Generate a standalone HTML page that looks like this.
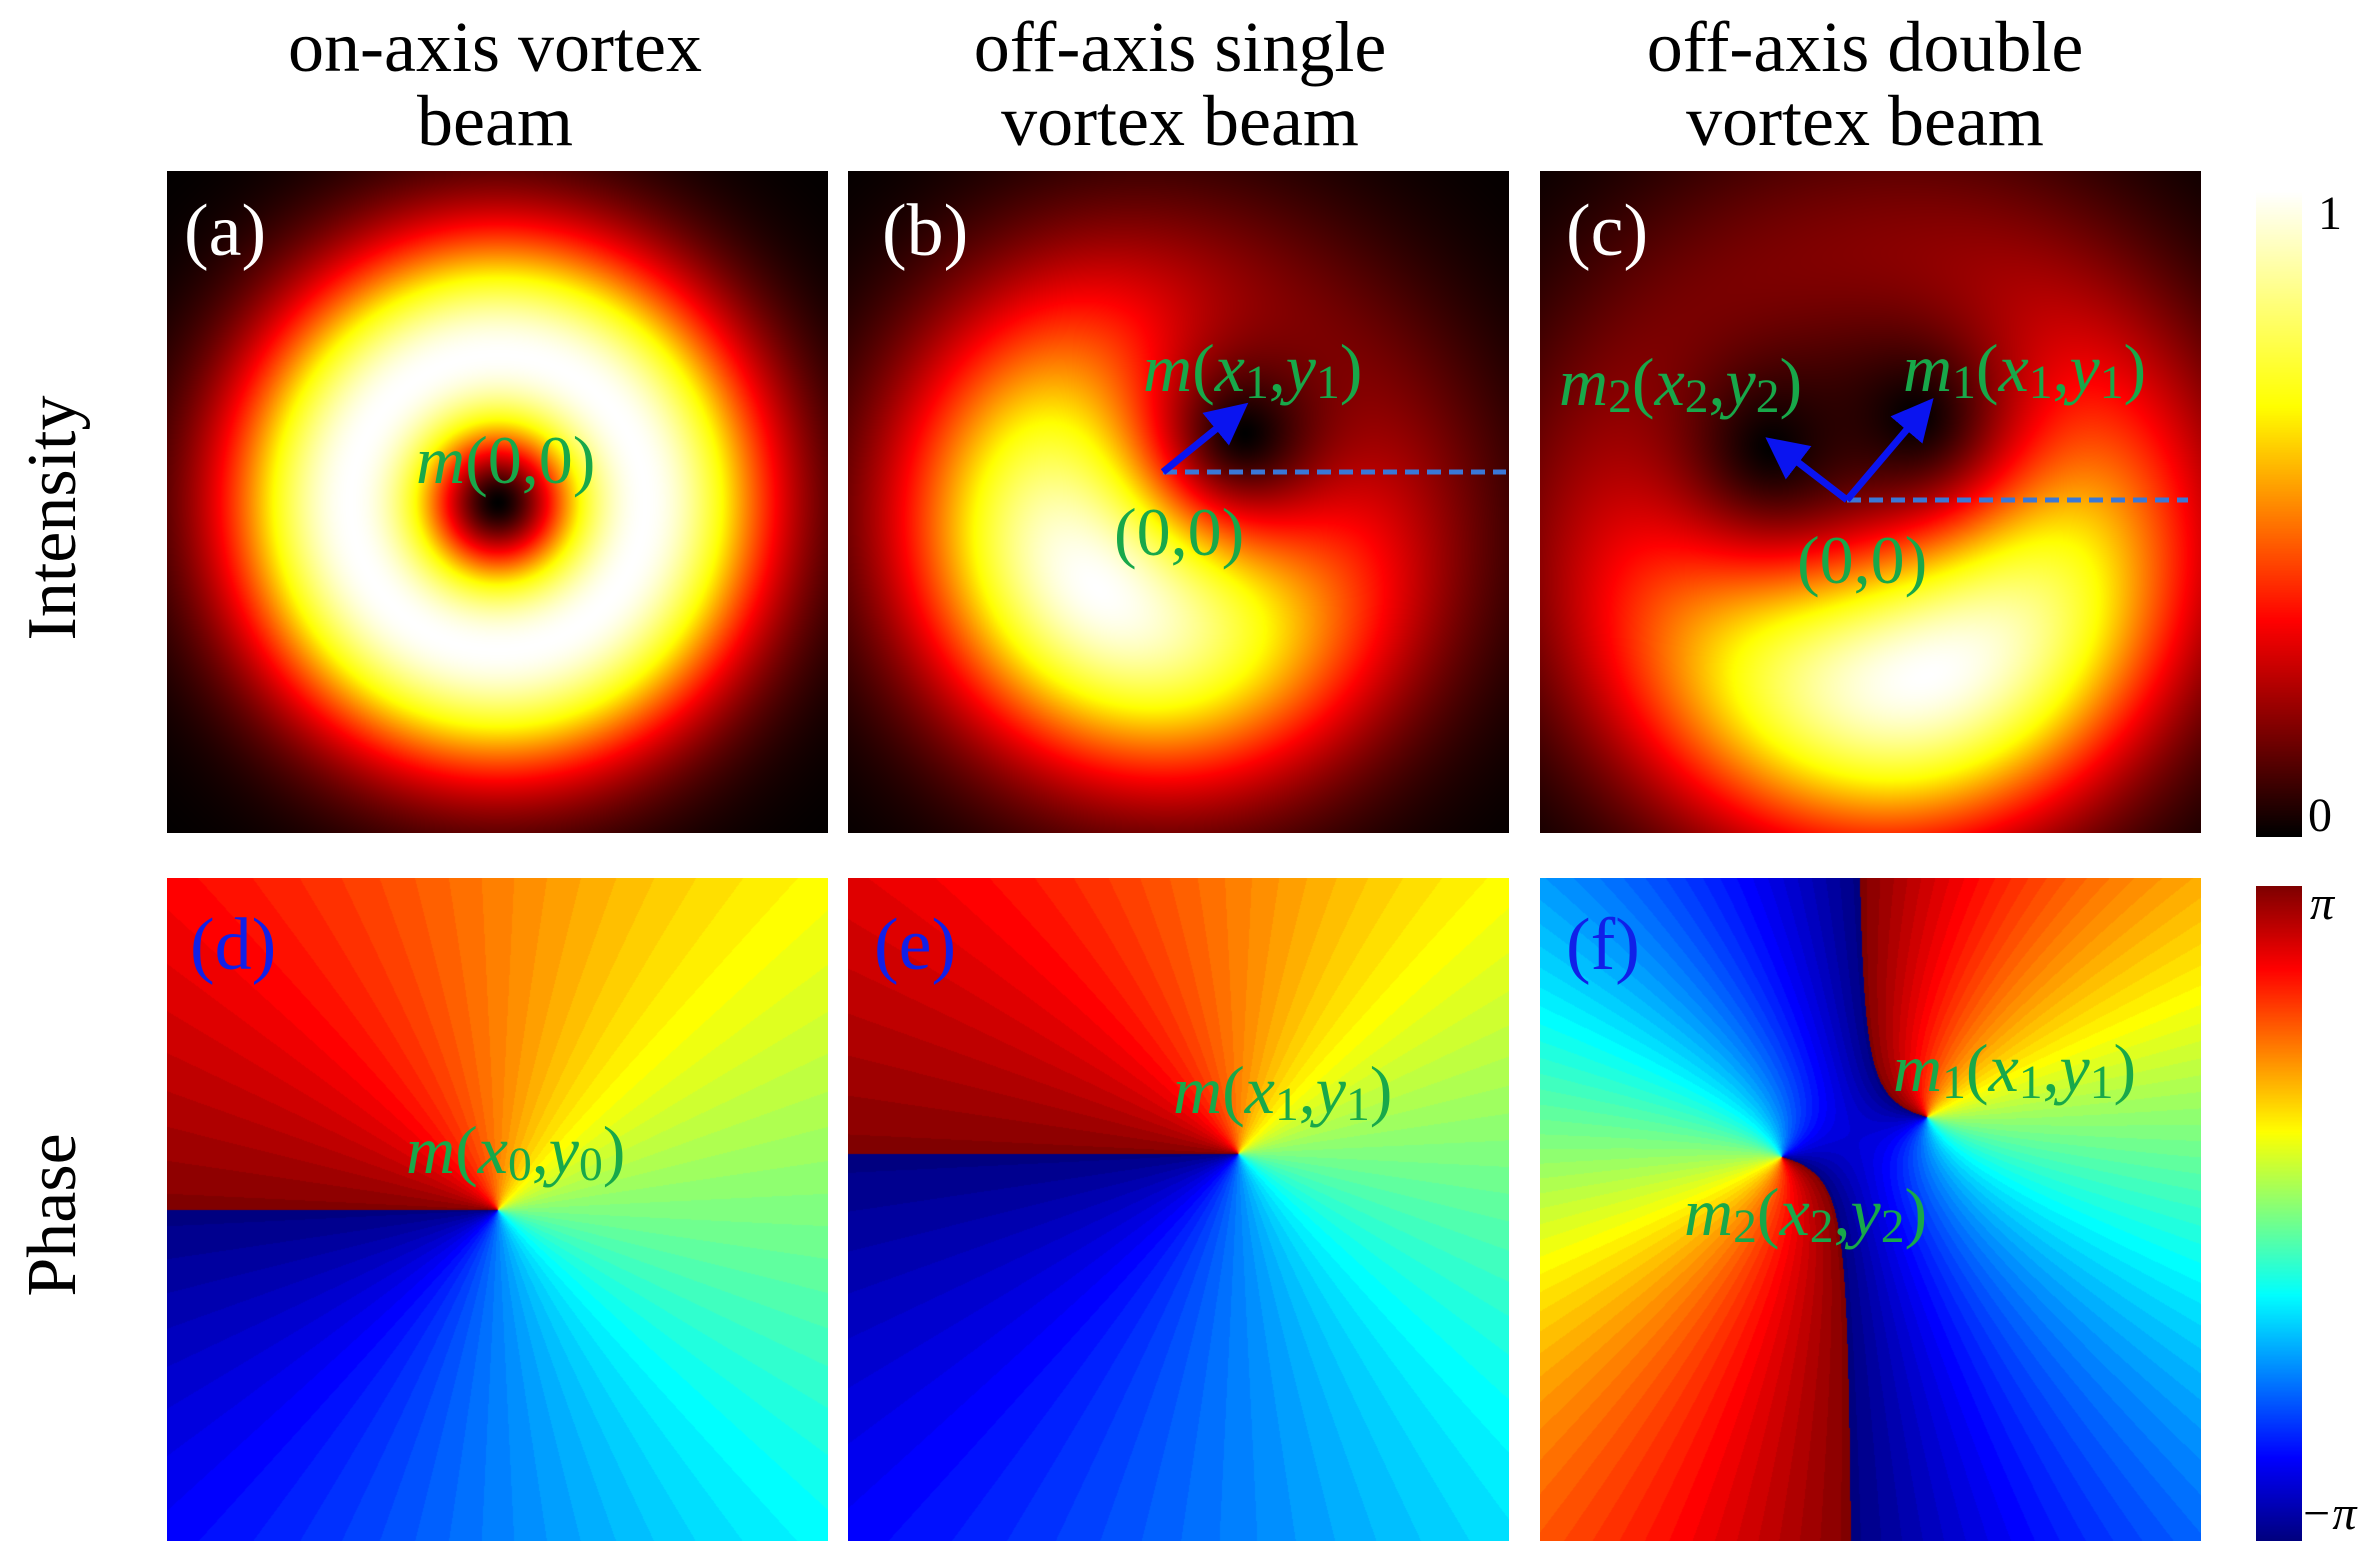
<!DOCTYPE html>
<html><head><meta charset="utf-8">
<style>
body{margin:0;background:#fff;}
#root{position:relative;width:2374px;height:1558px;overflow:hidden;background:#fff;font-family:"Liberation Serif","DejaVu Serif",serif;}
canvas{position:absolute;display:block;}
.t{position:absolute;font-size:72px;line-height:74px;text-align:center;color:#000;white-space:nowrap;}
.lbl{position:absolute;font-size:74px;line-height:1;white-space:nowrap;}
.g{position:absolute;font-size:68px;line-height:1;color:#18a84a;font-style:italic;white-space:nowrap;}
.g span.n{font-style:normal;}
.g sub{font-size:0.7em;vertical-align:-0.15em;font-style:normal;}
.row{position:absolute;font-size:70px;transform:rotate(-90deg);transform-origin:center;white-space:nowrap;}
.cb{position:absolute;font-size:48px;line-height:1;}
svg{position:absolute;left:0;top:0;}
</style></head><body>
<div id="root">
<div class="t" style="left:275px;top:10px;width:440px;">on-axis vortex<br>beam</div>
<div class="t" style="left:960px;top:10px;width:440px;">off-axis single<br>vortex beam</div>
<div class="t" style="left:1645px;top:10px;width:440px;">off-axis double<br>vortex beam</div>
<div class="row" style="left:-80px;top:478px;width:266px;text-align:center;">Intensity</div>
<div class="row" style="left:-80px;top:1175px;width:266px;text-align:center;">Phase</div>

<canvas id="pa" width="661" height="662" style="left:167px;top:171px"></canvas>
<canvas id="pb" width="661" height="662" style="left:848px;top:171px"></canvas>
<canvas id="pc" width="661" height="662" style="left:1540px;top:171px"></canvas>
<canvas id="pd" width="661" height="663" style="left:167px;top:878px"></canvas>
<canvas id="pe" width="661" height="663" style="left:848px;top:878px"></canvas>
<canvas id="pf" width="661" height="663" style="left:1540px;top:878px"></canvas>
<canvas id="cb1" width="46" height="645" style="left:2256px;top:192px"></canvas>
<canvas id="cb2" width="46" height="655" style="left:2256px;top:886px"></canvas>
<div class="cb" style="left:2318px;top:190px;">1</div>
<div class="cb" style="left:2308px;top:792px;">0</div>
<div class="cb" style="left:2310px;top:880px;font-style:italic;">π</div>
<div class="cb" style="left:2300px;top:1490px;font-style:italic;">−π</div>

<svg width="2374" height="1558">
<defs><marker id="ah" markerWidth="6" markerHeight="6" refX="3" refY="3" orient="auto"><path d="M0,0 L6,3 L0,6 z" fill="#0a14f0"/></marker></defs>
<line x1="1163" y1="472" x2="1506" y2="472" stroke="#3a78d8" stroke-width="5" stroke-dasharray="14,8"/>
<line x1="1163" y1="472" x2="1232" y2="416" stroke="#0a14f0" stroke-width="7" marker-end="url(#ah)"/>
<line x1="1847" y1="500" x2="2188" y2="500" stroke="#3a78d8" stroke-width="5" stroke-dasharray="14,8"/>
<line x1="1847" y1="500" x2="1782" y2="450" stroke="#0a14f0" stroke-width="7" marker-end="url(#ah)"/>
<line x1="1847" y1="500" x2="1920" y2="414" stroke="#0a14f0" stroke-width="7" marker-end="url(#ah)"/>
</svg>

<div class="lbl" style="left:184px;top:194px;color:#fff;">(a)</div>
<div class="lbl" style="left:882px;top:194px;color:#fff;">(b)</div>
<div class="lbl" style="left:1566px;top:194px;color:#fff;">(c)</div>
<div class="lbl" style="left:190px;top:908px;color:#1020e8;">(d)</div>
<div class="lbl" style="left:874px;top:908px;color:#1020e8;">(e)</div>
<div class="lbl" style="left:1566px;top:908px;color:#1020e8;">(f)</div>

<div class="g" style="left:416px;top:426px;">m<span class="n">(0,0)</span></div>
<div class="g" style="left:1143px;top:334px;">m<span class="n">(</span>x<sub>1</sub><span class="n">,</span>y<sub>1</sub><span class="n">)</span></div>
<div class="g" style="left:1114px;top:498px;"><span class="n">(0,0)</span></div>
<div class="g" style="left:1559px;top:348px;">m<sub>2</sub><span class="n">(</span>x<sub>2</sub><span class="n">,</span>y<sub>2</sub><span class="n">)</span></div>
<div class="g" style="left:1903px;top:334px;">m<sub>1</sub><span class="n">(</span>x<sub>1</sub><span class="n">,</span>y<sub>1</sub><span class="n">)</span></div>
<div class="g" style="left:1797px;top:526px;"><span class="n">(0,0)</span></div>
<div class="g" style="left:406px;top:1116px;">m<span class="n">(</span>x<sub>0</sub><span class="n">,</span>y<sub>0</sub><span class="n">)</span></div>
<div class="g" style="left:1173px;top:1056px;">m<span class="n">(</span>x<sub>1</sub><span class="n">,</span>y<sub>1</sub><span class="n">)</span></div>
<div class="g" style="left:1893px;top:1034px;">m<sub>1</sub><span class="n">(</span>x<sub>1</sub><span class="n">,</span>y<sub>1</sub><span class="n">)</span></div>
<div class="g" style="left:1684px;top:1178px;">m<sub>2</sub><span class="n">(</span>x<sub>2</sub><span class="n">,</span>y<sub>2</sub><span class="n">)</span></div>
</div>
<script>
// vortex positions (fraction of panel half-width, y up) per panel
const vortA = [[0.0, 0.0]];
const vortB = [[0.20, 0.21]];
const vortC = [[0.13, 0.26], [-0.30, 0.17]];
const vortD = [[0.0, 0.0]];
const vortE = [[0.18, 0.17]];
const vortF = [[0.17, 0.28], [-0.27, 0.16]];
const beamWidth = [0.63, 0.68, 0.68];
const gammaVals = [0.85, 0.75, 0.7];

function cl(v){return v<0?0:v>1?1:v;}
function hot(t){return [cl(3*t),cl(3*t-1),cl(3*t-2)];}
function jet(t){return [cl(1.5-Math.abs(4*t-3)),cl(1.5-Math.abs(4*t-2)),cl(1.5-Math.abs(4*t-1))];}

function field(vs,u,v,w){
  let re=1,im=0;
  for(const [a,b] of vs){const dx=u-a,dy=v-b;const r2=re*dx-im*dy;const i2=re*dy+im*dx;re=r2;im=i2;}
  const g=Math.exp(-(u*u+v*v)/(w*w));
  return [re*g,im*g];
}
function drawIntensity(id,vs,w,gm){
  const c=document.getElementById(id),ctx=c.getContext('2d');
  const W=c.width,H=c.height,img=ctx.createImageData(W,H),I=new Float32Array(W*H);
  let mx=0;
  for(let y=0;y<H;y++)for(let x=0;x<W;x++){
    const u=(x-W/2)/(W/2),v=-(y-H/2)/(H/2);
    const [re,im]=field(vs,u,v,w);const val=re*re+im*im;I[y*W+x]=val;if(val>mx)mx=val;}
  for(let k=0;k<W*H;k++){const col=hot(Math.pow(I[k]/mx,gm));img.data[4*k]=col[0]*255;img.data[4*k+1]=col[1]*255;img.data[4*k+2]=col[2]*255;img.data[4*k+3]=255;}
  ctx.putImageData(img,0,0);
}
function drawPhase(id,vs){
  const c=document.getElementById(id),ctx=c.getContext('2d');
  const W=c.width,H=c.height,img=ctx.createImageData(W,H);
  for(let y=0;y<H;y++)for(let x=0;x<W;x++){
    const u=(x-W/2)/(W/2),v=-(y-H/2)/(H/2);
    const [re,im]=field(vs,u,v,1);
    let p=Math.atan2(im,re);
    let t=(p+Math.PI)/(2*Math.PI);
    t=Math.round(t*64)/64;
    const col=jet(t);const k=y*W+x;
    img.data[4*k]=col[0]*255;img.data[4*k+1]=col[1]*255;img.data[4*k+2]=col[2]*255;img.data[4*k+3]=255;}
  ctx.putImageData(img,0,0);
}
function drawBar(id,cmap){
  const c=document.getElementById(id),ctx=c.getContext('2d');
  for(let y=0;y<c.height;y++){const col=cmap(1-y/(c.height-1));
    ctx.fillStyle='rgb('+(col[0]*255|0)+','+(col[1]*255|0)+','+(col[2]*255|0)+')';ctx.fillRect(0,y,c.width,1);}
}
drawIntensity('pa',vortA,beamWidth[0],gammaVals[0]);
drawIntensity('pb',vortB,beamWidth[1],gammaVals[1]);
drawIntensity('pc',vortC,beamWidth[2],gammaVals[2]);
drawPhase('pd',vortD);
drawPhase('pe',vortE);
drawPhase('pf',vortF);
drawBar('cb1',hot);
drawBar('cb2',jet);
</script>
</body></html>
